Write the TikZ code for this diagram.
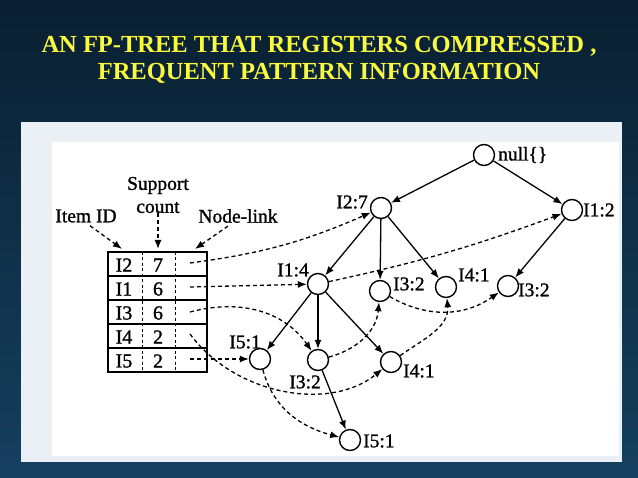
\documentclass[tikz,border=0pt]{standalone}
\usepackage{fontspec}
\setmainfont{Liberation Serif}
\newfontfamily\semib[FakeBold=1.2]{Liberation Serif}
\usetikzlibrary{arrows.meta}
\definecolor{bgtop}{HTML}{0A1F31}
\definecolor{bgbot}{HTML}{15405F}
\definecolor{paneout}{HTML}{EBF0F7}
\definecolor{titleyel}{HTML}{FAFA3C}
\tikzset{
  tnode/.style={circle,draw,line width=1.4pt,minimum size=21pt,inner sep=0pt},
  lbl/.style={inner sep=0pt,font=\semib\fontsize{19.5}{19.5}\selectfont},
  tedge/.style={line width=1.3pt,-{Latex[length=9pt,width=7pt]}},
  link/.style={line width=1.3pt,dash pattern=on 4pt off 3pt,-{Latex[length=9pt,width=7pt]}},
  cell/.style={inner sep=0pt,font=\semib\fontsize{20}{20}\selectfont}
}
\begin{document}
\begin{tikzpicture}[x=1pt,y=-1pt]
\useasboundingbox (0,0) rectangle (638,478);
\shade[top color=bgtop,bottom color=bgbot] (0,0) rectangle (638,478);
\fill[paneout] (21,122) rectangle (622,462);
\fill[white] (52,142) rectangle (619,456);
% title
\node[text=titleyel,font=\fontsize{24.5}{27}\selectfont\bfseries,align=center] (title) at (319,60)
  {AN FP-TREE THAT REGISTERS COMPRESSED ,\\FREQUENT PATTERN INFORMATION};
% header table
\draw[line width=1.6pt] (108,252) rectangle (207,372);
\foreach \yy in {276,300,324,348} \draw[line width=1.3pt] (108,\yy) -- (207,\yy);
\draw[line width=1pt,dash pattern=on 3pt off 2.5pt] (142,252) -- (142,372);
\draw[line width=1pt,dash pattern=on 3pt off 2.5pt] (175,252) -- (175,372);
\node[cell] (r1a) at (124,265) {I2}; \node[cell] (r1b) at (158,265) {7};
\node[cell] (r2a) at (124,289) {I1}; \node[cell] (r2b) at (158,289) {6};
\node[cell] (r3a) at (124,313) {I3}; \node[cell] (r3b) at (158,313) {6};
\node[cell] (r4a) at (124,337) {I4}; \node[cell] (r4b) at (158,337) {2};
\node[cell] (r5a) at (124,361) {I5}; \node[cell] (r5b) at (158,361) {2};
\coordinate (l1) at (190,263);
\coordinate (l2) at (190,287);
\coordinate (l3) at (190,312);
\coordinate (l4) at (190,334);
\coordinate (l5) at (190,359);
% header labels
\node[lbl] (itemid) at (86,216) {Item ID};
\node[lbl,align=center,font=\semib\fontsize{19.5}{23}\selectfont] (sup) at (158,195) {Support\\count};
\node[lbl] (nlink) at (238,216) {Node-link};
\coordinate (ta) at (122,249);
\coordinate (tb) at (158,249);
\coordinate (tc) at (195,249);
\path (itemid.south) ++(4,3) coordinate (s1);
\path (nlink.south) ++(-10,3) coordinate (s3);
\draw[link] (s1) -- (ta);
\draw[link] (sup.south) -- (tb);
\draw[link] (s3) -- (tc);
% tree nodes
\node[tnode] (n0) at (484,155) {};
\node[tnode] (a) at (381,208) {};
\node[tnode] (b) at (572,210) {};
\node[tnode] (c) at (318,284) {};
\node[tnode] (d) at (380,291) {};
\node[tnode] (e) at (446,287) {};
\node[tnode] (f) at (508,286) {};
\node[tnode] (g) at (260,359) {};
\node[tnode] (h) at (318,360) {};
\node[tnode] (i) at (391,362) {};
\node[tnode] (j) at (350,440) {};
% tree labels
\node[lbl,anchor=west] (ln0) at (498,155) {null\{\}};
\node[lbl,anchor=east] (la) at (368,202) {I2:7};
\node[lbl,anchor=west] (lb) at (583,210) {I1:2};
\node[lbl,anchor=east] (lc) at (309,270) {I1:4};
\node[lbl,anchor=west] (ld) at (393,284) {I3:2};
\node[lbl,anchor=west] (le) at (458,275) {I4:1};
\node[lbl,anchor=west] (lf) at (518,290) {I3:2};
\node[lbl,anchor=east] (lg) at (261,342) {I5:1};
\node[lbl,anchor=east] (lh) at (321,382) {I3:2};
\node[lbl,anchor=west] (li) at (403,371) {I4:1};
\node[lbl,anchor=west] (lj) at (363,441) {I5:1};
% tree edges
\draw[tedge] (n0) -- (a);
\draw[tedge] (n0) -- (b);
\draw[tedge] (a) -- (c);
\draw[tedge] (a) -- (d);
\draw[tedge] (a) -- (e);
\draw[tedge] (b) -- (f);
\draw[tedge] (c) -- (g);
\draw[tedge] (c) -- (h);
\draw[tedge] (c) -- (i);
\draw[tedge] (h) -- (j);
% node links
\draw[link] (l1) to[bend right=8] (a);
\draw[link] (l2) -- (c);
\draw[link] (c) to[bend right=4] (b);
\draw[link] (l3) to[out=15,in=125] (h);
\draw[link] (h) to[out=15,in=-95] (d);
\draw[link] (d) to[out=-30,in=-145] (f);
\draw[link] (l4) .. controls (235,395) and (330,412) .. (i);
\draw[link] (i) to[out=35,in=-85] (e);
\draw[link] (l5) -- (g);
\draw[link] (g) to[out=-75,in=165] (j);
\end{tikzpicture}
\end{document}
